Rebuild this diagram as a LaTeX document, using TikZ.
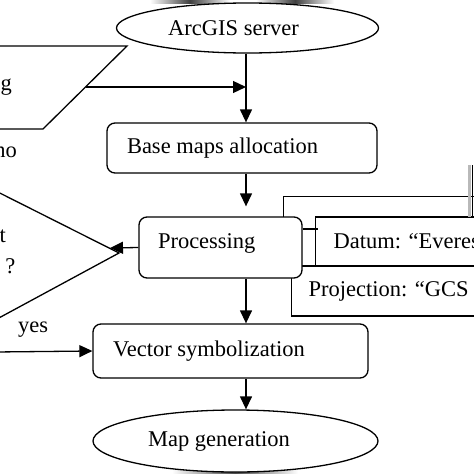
\documentclass[tikz,border=0pt]{standalone}
\usepackage{fontspec}
\setmainfont{Liberation Serif}
\usetikzlibrary{shapes.geometric,arrows.meta}
\begin{document}
\begin{tikzpicture}[x=1pt,y=-1pt,
  every node/.style={font=\fontsize{22.5}{27}\selectfont},
  ln/.style={line width=1.3pt},
  arr/.style={line width=1.3pt,-{Triangle[length=13pt,width=12pt]}},
  procbox/.style={draw,line width=1.3pt,rounded corners=8pt,fill=white,align=flush left,inner ysep=0pt},
  term/.style={draw,ellipse,line width=1.3pt,inner sep=0pt,fill=white},
  info/.style={draw,line width=1.3pt,fill=white,align=flush left,inner ysep=0pt,anchor=west},
  lbl/.style={inner sep=0pt}
]
\useasboundingbox (0,0) rectangle (474,474);
\clip (0,0) rectangle (474,474);
\coordinate (axis) at (246,0);

% smudges at the top and bottom edges
\shade[left color=white, right color=white, middle color=black!75] (150,0) rectangle (230,3.5);
\shade[left color=white, right color=white, middle color=black!75] (256,0) rectangle (334,3.5);
\shade[left color=white, right color=white, middle color=black!70] (172,470.5) rectangle (298,474);

% terminals
\node[term, minimum width=262pt, minimum height=50pt] (arc) at (247.5,28) {\hspace{-28pt}ArcGIS server};
\node[term, minimum width=285pt, minimum height=62pt] (map) at (235.5,441) {\hspace{-33pt}Map generation};

% input parallelogram (cut off at the left)
\draw[ln, fill=white] (-30,46) -- (127,46) -- (43,129) -- (-30,129);
\coordinate (pin) at (86,87);
\coordinate (join) at (246,87);
\node[lbl, anchor=east] (tg) at (12,87.5) {g};
\node[lbl, anchor=east] (tno) at (17,152.5) {no};

% process boxes
\node[procbox, minimum height=50pt, text width=230pt, inner xsep=20pt] (base) at (242,148) {Base maps allocation};

% boxes on the right
\node[draw, ln, fill=white, minimum width=320pt, minimum height=80pt, anchor=north west, inner sep=0pt] (spec) at (283,196) {};
\node[info, minimum height=49pt, text width=264pt, inner xsep=18pt] (datum) at (315,241.5) {Datum: “Everest};
\node[info, minimum height=50pt, text width=283pt, inner xsep=17pt] (projn) at (291,291) {Projection: “GCS};
\draw[line width=3pt, gray!55] (469.5,165) -- (469.5,217);
\draw[line width=1.5pt] (472.5,165) -- (472.5,217);

\node[procbox, minimum height=61pt, text width=125pt, inner xsep=19pt, text depth=12pt] (proc) at (220.5,247.5) {Processing};
\node[procbox, minimum height=54pt, text width=235pt, inner xsep=20pt] (vec) at (230.5,351) {Vector symbolization};

% decision (cut off at the left)
\draw[ln] (-40,173) -- (119,253) -- (-40,339);
\coordinate (dtip) at (110,248);
\node[lbl, anchor=east] (tt) at (6,236.5) {t};
\node[lbl, anchor=east] (tq) at (15.5,266.5) {?};
\node[lbl, anchor=west] (tyes) at (18,330) {yes};
\coordinate (yesin) at (-5,352);
\coordinate (tick) at (318,229);

% connectors
\draw[arr] (arc.south -| axis) -- (base.north -| axis);
\draw[arr] (pin) -- (join);
\draw[arr, shorten >=10pt] (base.south -| axis) -- (proc.north -| axis);
\draw[arr] (proc.west) -- (dtip);
\draw[ln] (proc.east |- tick) -- (tick);
\draw[arr] (proc.south -| axis) -- (vec.north -| axis);
\draw[arr] (yesin) -- (vec.west);
\draw[arr] (vec.south -| axis) -- (map.north -| axis);
\end{tikzpicture}
\end{document}
